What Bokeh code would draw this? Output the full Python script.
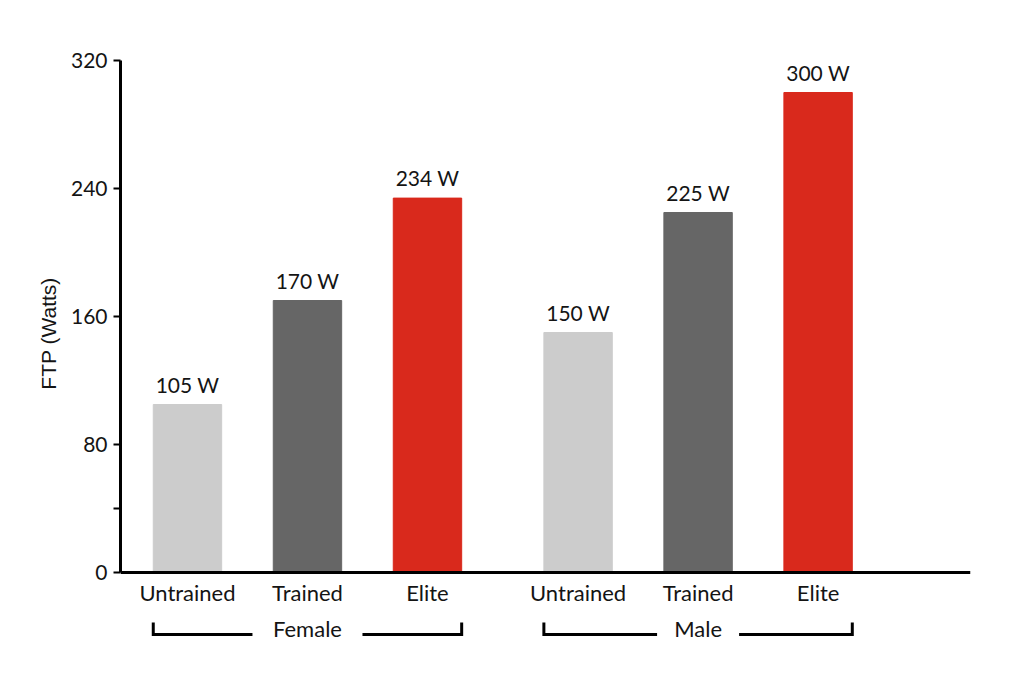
from bokeh.plotting import figure
from bokeh.layouts import column
from bokeh.models import Range1d, FixedTicker, Span, ColumnDataSource
from bokeh.core.properties import value
from bokeh.embed import file_html
from bokeh.resources import INLINE

groups = ["Female", "Male"]
levels = ["Untrained", "Trained", "Elite"]
female_ftp = [105, 170, 234]
male_ftp = [150, 225, 300]
level_colors = ["#cccccc", "#666666", "#d9291c"]
y_ticks = [0, 80, 160, 240, 320]
y_minor = [40]
y_title = "FTP (Watts)"

FONT = "Lato"
TXT = "#141414"
GROUP_GAP = 0.255
BAR_W = 0.57

series = [female_ftp, male_ftp]
xs, tops, cols, labs, cats = [], [], [], [], []
for g, vals in enumerate(series):
    for i, v in enumerate(vals):
        xs.append(g * (len(levels) + GROUP_GAP) + i)
        tops.append(v)
        cols.append(level_colors[i])
        labs.append(f"{v} W")
        cats.append(levels[i])

src = ColumnDataSource(dict(x=xs, top=tops, color=cols, lab=labs, cat=cats))
x_range = Range1d(-0.558, 6.525)

# ---------- main chart (bars + category labels) ----------
p = figure(width=1008, height=606, output_backend="svg", toolbar_location=None,
           x_range=x_range, y_range=Range1d(-21.25, 320),
           x_axis_type=None,
           min_border_left=120, min_border_right=38, min_border_top=60, min_border_bottom=0)
p.xgrid.visible = False
p.ygrid.visible = False
p.outline_line_color = None

p.vbar(x="x", top="top", width=BAR_W, bottom=0, color="color", source=src)
p.text(x="x", y="top", text="lab", source=src, text_align="center", text_baseline="bottom",
       y_offset=-8, text_font=value(FONT), text_font_size="21px", text_color=TXT)
p.add_layout(Span(location=0, dimension="width", line_color="black", line_width=3))
p.text(x="x", y=-12.5, text="cat", source=src, text_align="center", text_baseline="middle",
       text_font=value(FONT), text_font_size="22px", text_color=TXT)

yax = p.yaxis[0]
yax.ticker = FixedTicker(ticks=y_ticks, minor_ticks=y_minor)
yax.bounds = (0, 320)
yax.axis_line_width = 3
yax.axis_line_color = "black"
yax.major_tick_line_width = 2
yax.minor_tick_line_width = 2
yax.major_tick_out = 7
yax.major_tick_in = 0
yax.minor_tick_out = 7
yax.minor_tick_in = 0
yax.major_label_text_font = FONT
yax.major_label_text_font_size = "21px"
yax.major_label_text_color = TXT
yax.major_label_standoff = 6
yax.axis_label = y_title
yax.axis_label_text_font = "Liberation Sans"
yax.axis_label_text_font_style = "normal"
yax.axis_label_text_font_size = "21px"
yax.axis_label_text_color = TXT
yax.axis_label_standoff = 8

# ---------- group labels and brackets below ----------
q = figure(width=1008, height=62, output_backend="svg", toolbar_location=None,
           x_range=x_range, y_range=Range1d(62, 0),
           x_axis_type=None, y_axis_type=None,
           min_border_left=120, min_border_right=38, min_border_top=0, min_border_bottom=0)
q.xgrid.visible = False
q.ygrid.visible = False
q.outline_line_color = None

y_h, y_v = 28, 16
bxs, bys, gx = [], [], []
for g, name in enumerate(groups):
    g0 = g * (len(levels) + GROUP_GAP)
    left = g0 - BAR_W / 2
    right = g0 + len(levels) - 1 + BAR_W / 2
    center = g0 + (len(levels) - 1) / 2
    gap = (7 * len(name) + 13) / 120
    bxs += [[left, left, center - gap], [center + gap, right, right]]
    bys += [[y_v, y_h, y_h], [y_h, y_h, y_v]]
    gx.append(center)
q.multi_line(xs=bxs, ys=bys, line_color="black", line_width=3, line_join="miter")
q.text(x=gx, y=22, text=groups, text_align="center", text_baseline="middle",
       text_font=value(FONT), text_font_size="22px", text_color=TXT)

layout = column(p, q, spacing=0)
open("out.html", "w").write(file_html(layout, INLINE))
